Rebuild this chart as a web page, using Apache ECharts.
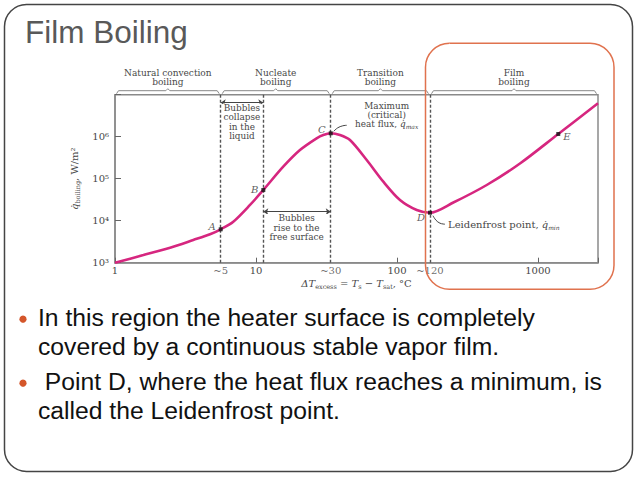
<!DOCTYPE html>
<html><head><meta charset="utf-8">
<script src="https://cdn.jsdelivr.net/npm/echarts@6/dist/echarts.min.js"></script>
<style>html,body{margin:0;padding:0;background:#fff}#c{width:638px;height:478px}</style>
</head><body><div id="c"></div>
<script>
// ---- data ----
const deltaT   = [1, 1.59, 2.46, 3.59, 4.72, 5.62, 6.9, 9.07, 11.27, 15.6, 20.5, 26.9, 30.0, 33.9, 39.4, 46.4, 61.0, 80.0, 105, 138, 171.4, 251, 433, 745, 1393, 2665];
const heatFlux = [1000, 1520, 2280, 3470, 4750, 6240, 9460, 23700, 53800, 193000, 482000, 916000, 1100000, 1205000, 1100000, 834000, 279000, 84900, 31100, 18000, 15500, 27100, 70800, 230000, 1160000, 6240000];
const pointNames = ['A', 'B', 'C', 'D', 'E'];
const pointT     = [5.62, 11.27, 33.9, 171.4, 1393];
const pointQ     = [6240, 53800, 1205000, 15500, 1160000];
const boundaryT  = [5.62, 11.27, 33.9, 171.4];
const regionEdges = [1, 5.62, 33.9, 171.4, 2665];
const regionNames = [['Natural convection', 'boiling'], ['Nucleate', 'boiling'], ['Transition', 'boiling'], ['Film', 'boiling']];
const xTickValues = [1, 10, 100, 1000];
const xTickLabels = ['1', '10', '100', '1000'];
const boundaryLabelT = [5.62, 33.9, 171.4];
const boundaryLabels = ['~5', '~30', '~120'];
const yTickExps   = [3, 4, 5, 6];
const yTickLabels = ['10³', '10⁴', '10⁵', '10⁶'];
const xMin = 1, xMax = 2665, yMin = 1000, yMax = 10000000;
const bullets = [
  ['In this region the heater surface is completely', 'covered by a continuous stable vapor film.'],
  [' Point D, where the heat flux reaches a minimum, is', 'called the Leidenfrost point.']
];

const SERIF = '"DejaVu Serif", "Liberation Serif", serif';
const SANS = '"Liberation Sans", Arial, sans-serif';
const TXT = '#474747';

const chart = echarts.init(document.getElementById('c'), null, {renderer: 'svg'});

const labelPlace = {
  A: {position: 'left', distance: 3, offset: [0, -3]},
  B: {position: 'left', distance: 3, offset: [0, -1]},
  C: {position: 'left', distance: 3, offset: [0, -4]},
  D: {position: 'left', distance: 3, offset: [0, 5]},
  E: {position: 'right', distance: 3, offset: [0, 3]}
};

chart.setOption({
  animation: false,
  backgroundColor: '#fff',
  grid: {left: 115, right: 40, top: 94.7, bottom: 215.3, show: true, borderColor: '#8a8a8a', borderWidth: 1.5},
  xAxis: {
    type: 'log', logBase: 10, min: xMin, max: xMax,
    axisLine: {lineStyle: {color: '#8a8a8a', width: 1.5}},
    axisTick: {inside: true, length: 5, lineStyle: {color: '#666'}},
    minorTick: {show: false}, splitLine: {show: false},
    axisLabel: {
      fontFamily: SERIF, fontSize: 10, color: TXT, margin: 3,
      formatter: v => { const i = xTickValues.findIndex(t => Math.abs(t - v) < 1e-6 * t); return i >= 0 ? xTickLabels[i] : ''; }
    },
    name: '{i|ΔT}{s|excess}{n| = }{i|T}{s|s}{n| − }{i|T}{s|sat}{n|, °C}',
    nameLocation: 'middle', nameGap: 14,
    nameTextStyle: {
      color: TXT, fontFamily: SERIF, fontSize: 10,
      rich: {
        n: {fontFamily: SERIF, fontSize: 10, color: TXT, lineHeight: 14},
        i: {fontFamily: SERIF, fontSize: 10, color: TXT, fontStyle: 'italic', lineHeight: 14},
        s: {fontFamily: SERIF, fontSize: 6.5, color: TXT, verticalAlign: 'bottom', lineHeight: 14}
      }
    }
  },
  yAxis: {
    type: 'log', logBase: 10, min: yMin, max: yMax,
    axisLine: {lineStyle: {color: '#8a8a8a', width: 1.5}},
    axisTick: {inside: true, length: 6, lineStyle: {color: '#666'}},
    minorTick: {show: false}, splitLine: {show: false},
    axisLabel: {
      fontFamily: SERIF, fontSize: 10, color: TXT, margin: 6,
      formatter: v => { const e = Math.round(Math.log10(v)); const i = yTickExps.indexOf(e); return i >= 0 ? yTickLabels[i] : ''; }
    },
    name: '{i|q̇}{s|boiling}{n|, W/m²}',
    nameLocation: 'middle', nameGap: 17, nameRotate: 90,
    nameTextStyle: {
      color: TXT, fontFamily: SERIF, fontSize: 10,
      rich: {
        n: {fontFamily: SERIF, fontSize: 10, color: TXT, lineHeight: 14},
        i: {fontFamily: SERIF, fontSize: 10, color: TXT, fontStyle: 'italic', lineHeight: 14},
        s: {fontFamily: SERIF, fontSize: 6.5, color: TXT, verticalAlign: 'bottom', lineHeight: 14}
      }
    }
  },
  series: [
    {
      type: 'line', name: 'boiling curve',
      data: deltaT.map((t, i) => [t, heatFlux[i]]),
      smooth: 0.3, showSymbol: false, z: 5,
      lineStyle: {color: '#D6267F', width: 2.6},
      markLine: {
        silent: true, symbol: 'none', label: {show: false},
        lineStyle: {color: '#555', type: [3, 2], width: 1.4},
        data: boundaryT.map(v => ({xAxis: v}))
      }
    },
    {
      type: 'scatter', name: 'points', z: 6,
      symbol: 'rect', symbolSize: 4, itemStyle: {color: '#111'},
      data: pointNames.map((n, i) => ({
        name: n, value: [pointT[i], pointQ[i]],
        label: Object.assign({show: true, formatter: '{b}', fontFamily: SERIF, fontStyle: 'italic', fontSize: 10, color: '#333'}, labelPlace[n])
      })),
      markLine: {
        silent: true, symbol: ['arrow', 'arrow'], symbolSize: 5, label: {show: false},
        lineStyle: {color: '#444', type: 'solid', width: 1},
        data: [
          [{coord: [boundaryT[0], 6450000]}, {coord: [boundaryT[1], 6450000]}],
          [{coord: [boundaryT[1], 16400]}, {coord: [boundaryT[2], 16400]}]
        ]
      }
    },
    {
      type: 'scatter', name: 'boundary labels', clip: false, symbolSize: 0, silent: true,
      data: boundaryLabelT.map((t, i) => ({name: boundaryLabels[i], value: [t, yMin]})),
      label: {show: true, position: 'bottom', distance: 3, formatter: '{b}', fontFamily: SERIF, fontSize: 10, color: TXT}
    }
  ]
});

function P(x, y) { return chart.convertToPixel({xAxisIndex: 0, yAxisIndex: 0}, [x, y]); }

const g = [];
function lines(arr, x, yCenter, step, font, align) {
  const y0 = yCenter - step * (arr.length - 1) / 2;
  arr.forEach((t, i) => g.push({type: 'text', z: 10, style: {text: t, x: x, y: y0 + i * step, font: font, fill: TXT, textAlign: align || 'center', textVerticalAlign: 'middle'}}));
}
// slide frame
g.push({type: 'rect', shape: {x: 4.5, y: 4.5, width: 628, height: 467, r: 22}, style: {fill: 'none', stroke: '#444', lineWidth: 1.5}, z: 1});
// title
g.push({type: 'text', z: 10, style: {text: 'Film Boiling', x: 25, y: 31.6, font: '31.5px ' + SANS, fill: '#595959', textAlign: 'left', textVerticalAlign: 'middle'}});
// bullets
const lineMid = [[317.7, 346.3], [381.7, 410]];
bullets.forEach((para, pi) => {
  g.push({type: 'circle', z: 10, shape: {cx: 23, cy: lineMid[pi][0] + 1.5, r: 3.6}, style: {fill: '#D4562A'}});
  para.forEach((line, li) => {
    g.push({type: 'text', z: 10, style: {text: line, x: 38, y: lineMid[pi][li], font: '24.7px ' + SANS, fill: '#111', textAlign: 'left', textVerticalAlign: 'middle'}});
  });
});
// region labels and braces above the plot
const topY = P(xMin, yMax)[1];
for (let i = 0; i < regionNames.length; i++) {
  const x0 = P(regionEdges[i], yMax)[0], x1 = P(regionEdges[i + 1], yMax)[0];
  const mid = (x0 + x1) / 2, by = topY - 4;
  lines(regionNames[i], mid, topY - 17.5, 9.4, '9px ' + SERIF);
  g.push({type: 'polyline', z: 10, shape: {points: [[x0 + 1.5, by + 3], [x0 + 3.5, by], [mid - 2, by], [mid, by - 2], [mid + 2, by], [x1 - 3.5, by], [x1 - 1.5, by + 3]]}, style: {stroke: '#888', lineWidth: 1, fill: 'none'}});
}
// annotations
const annFont = '8.9px ' + SERIF;
let p = P(7.95, 2240000);
g.push({type: 'rect', z: 9, shape: {x: p[0] - 19, y: p[1] - 18.5, width: 38, height: 37}, style: {fill: '#fff'}});
lines(['Bubbles', 'collapse', 'in the', 'liquid'], p[0], p[1], 9.4, annFont);
p = P(19.4, 6850);
g.push({type: 'rect', z: 9, shape: {x: p[0] - 31, y: p[1] - 13.5, width: 62, height: 27}, style: {fill: '#fff'}});
lines(['Bubbles', 'rise to the', 'free surface'], p[0], p[1], 9.4, annFont);
p = P(84.5, 3290000);
lines(['Maximum', '(critical)'], p[0], p[1] - 4.7, 9.4, annFont);
g.push({type: 'text', z: 10, style: {
  text: '{n|heat flux, }{i|q̇}{s|max}', x: p[0], y: p[1] + 9.4, textAlign: 'center', textVerticalAlign: 'middle',
  rich: {
    n: {font: annFont, fill: TXT, lineHeight: 9.4},
    i: {font: 'italic ' + annFont, fill: TXT, lineHeight: 9.4},
    s: {font: 'italic 6px ' + SERIF, fill: TXT, lineHeight: 9.4, verticalAlign: 'bottom'}
  }
}});
p = P(230, 8340);
g.push({type: 'text', z: 10, style: {
  text: '{n|Leidenfrost point, }{i|q̇}{s|min}', x: p[0], y: p[1], textAlign: 'left', textVerticalAlign: 'middle',
  rich: {
    n: {font: '10px ' + SERIF, fill: TXT, lineHeight: 12},
    i: {font: 'italic 10px ' + SERIF, fill: TXT, lineHeight: 12},
    s: {font: 'italic 6px ' + SERIF, fill: TXT, lineHeight: 12, verticalAlign: 'bottom'}
  }
}});
// leader lines
const c = P(pointT[2], pointQ[2]);
g.push({type: 'polyline', z: 10, shape: {points: [[c[0] + 3, c[1] - 2], [c[0] + 7, c[1] - 5.5], [c[0] + 12, c[1] - 7.5], [c[0] + 16, c[1] - 8]], smooth: 0.4}, style: {stroke: '#444', lineWidth: 1, fill: 'none'}});
const d = P(pointT[3], pointQ[3]);
g.push({type: 'polyline', z: 10, shape: {points: [[d[0] + 3, d[1] + 3], [d[0] + 6, d[1] + 7.5], [d[0] + 10, d[1] + 10.5], [d[0] + 15, d[1] + 11.5]], smooth: 0.4}, style: {stroke: '#444', lineWidth: 1, fill: 'none'}});
// highlighted film boiling region
g.push({type: 'rect', z: 20, shape: {x: 425.5, y: 43.3, width: 188.5, height: 246, r: 24}, style: {fill: 'none', stroke: '#E0724E', lineWidth: 1.5}});

chart.setOption({graphic: g});
</script>
</body></html>
